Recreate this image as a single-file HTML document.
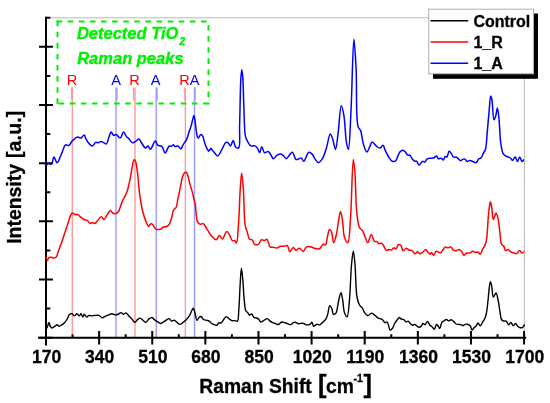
<!DOCTYPE html>
<html><head><meta charset="utf-8"><title>Raman spectra</title>
<style>html,body{margin:0;padding:0;background:#fff;width:550px;height:403px;overflow:hidden}svg{display:block}</style>
</head><body>
<svg width="550" height="403" viewBox="0 0 550 403">
<rect width="550" height="403" fill="#fff"/>
<path d="M46 17.8H524.4V337" fill="none" stroke="#b8b8b8" stroke-width="1"/>
<line x1="72.3" y1="87.5" x2="72.3" y2="337" stroke="#ff9a9a" stroke-width="1.4"/>
<line x1="71.6" y1="87.5" x2="71.6" y2="100.5" stroke="#ff9a9a" stroke-width="1.4"/>
<line x1="116.0" y1="87.5" x2="116.0" y2="337" stroke="#9a9aff" stroke-width="1.4"/>
<line x1="116.9" y1="87.5" x2="116.9" y2="100.5" stroke="#9a9aff" stroke-width="1.4"/>
<line x1="135.0" y1="87.5" x2="135.0" y2="337" stroke="#ff9a9a" stroke-width="1.4"/>
<line x1="133.6" y1="87.5" x2="133.6" y2="100.5" stroke="#ff9a9a" stroke-width="1.4"/>
<line x1="156.2" y1="87.5" x2="156.2" y2="337" stroke="#9a9aff" stroke-width="1.4"/>
<line x1="157.0" y1="87.5" x2="157.0" y2="100.5" stroke="#9a9aff" stroke-width="1.4"/>
<line x1="185.4" y1="87.5" x2="185.4" y2="337" stroke="#ff9a9a" stroke-width="1.4"/>
<line x1="184.9" y1="87.5" x2="184.9" y2="100.5" stroke="#ff9a9a" stroke-width="1.4"/>
<line x1="194.5" y1="87.5" x2="194.5" y2="337" stroke="#9a9aff" stroke-width="1.4"/>
<line x1="195.0" y1="87.5" x2="195.0" y2="100.5" stroke="#9a9aff" stroke-width="1.4"/>
<line x1="56.6" y1="21.5" x2="209.5" y2="21.5" stroke="#00f000" stroke-width="2" stroke-dasharray="5.6 5.5"/>
<line x1="57.5" y1="20.6" x2="57.5" y2="104.5" stroke="#00f000" stroke-width="2" stroke-dasharray="5.6 5.5"/>
<line x1="58.6" y1="103.5" x2="209.5" y2="103.5" stroke="#00f000" stroke-width="2" stroke-dasharray="5.6 5.5"/>
<line x1="208.5" y1="25" x2="208.5" y2="104.5" stroke="#00f000" stroke-width="2" stroke-dasharray="5.6 5.5"/>
<text x="76.9" y="39" font-family="Liberation Sans, Arial, sans-serif" font-size="16.5" font-weight="bold" font-style="italic" fill="#00f000" stroke="#00f000" stroke-width="0.35">Detected TiO<tspan font-size="10.5" dx="0.8" dy="5.6">2</tspan></text>
<text x="77.2" y="63.9" font-family="Liberation Sans, Arial, sans-serif" font-size="16.5" font-weight="bold" font-style="italic" fill="#00f000" stroke="#00f000" stroke-width="0.35">Raman peaks</text>
<text x="72.0" y="84.5" text-anchor="middle" font-family="Liberation Sans, Arial, sans-serif" font-size="14.6" fill="#ff0000">R</text>
<text x="116.2" y="84.5" text-anchor="middle" font-family="Liberation Sans, Arial, sans-serif" font-size="14.6" fill="#0000ff">A</text>
<text x="134.5" y="84.5" text-anchor="middle" font-family="Liberation Sans, Arial, sans-serif" font-size="14.6" fill="#ff0000">R</text>
<text x="155.5" y="84.5" text-anchor="middle" font-family="Liberation Sans, Arial, sans-serif" font-size="14.6" fill="#0000ff">A</text>
<text x="184.5" y="84.5" text-anchor="middle" font-family="Liberation Sans, Arial, sans-serif" font-size="14.6" fill="#ff0000">R</text>
<text x="194.6" y="84.5" text-anchor="middle" font-family="Liberation Sans, Arial, sans-serif" font-size="14.6" fill="#0000ff">A</text>
<path d="M46 17.7V344.5 M39 337.7H525.2" fill="none" stroke="#000" stroke-width="2" stroke-linecap="square"/>
<path d="M39 337.70H52.9 M39 279.52H52.9 M39 221.34H52.9 M39 163.16H52.9 M39 104.98H52.9 M39 46.80H52.9 M46 308.61H50.3 M46 250.43H50.3 M46 192.25H50.3 M46 134.07H50.3 M46 75.89H50.3 M46 17.71H50.3 M46.00 331V344.4 M99.12 331V344.4 M152.24 331V344.4 M205.36 331V344.4 M258.48 331V344.4 M311.60 331V344.4 M364.72 331V344.4 M417.84 331V344.4 M470.96 331V344.4 M524.08 331V344.4 M72.56 334.2V337.7 M125.68 334.2V337.7 M178.80 334.2V337.7 M231.92 334.2V337.7 M285.04 334.2V337.7 M338.16 334.2V337.7 M391.28 334.2V337.7 M444.40 334.2V337.7 M497.52 334.2V337.7" fill="none" stroke="#000" stroke-width="2" stroke-linecap="butt"/>
<path d="M46.30,165.30C46.30,165.30 47.49,163.66 48.20,163.50C48.87,163.35 49.74,164.24 50.40,164.20C50.96,164.16 51.46,164.01 51.90,163.50C52.78,162.48 53.08,157.21 53.80,157.10C54.26,157.03 54.83,158.54 55.30,159.40C55.84,160.38 56.20,162.55 56.80,162.70C57.22,162.80 57.77,162.17 58.20,161.60C58.92,160.66 59.44,158.65 60.10,157.10C60.81,155.43 61.57,153.69 62.30,151.90C63.07,150.00 63.74,147.17 64.60,146.00C65.07,145.36 65.55,144.87 66.10,144.80C66.65,144.73 67.32,145.55 67.90,145.60C68.42,145.64 68.93,145.54 69.40,145.20C70.11,144.68 70.68,143.06 71.30,142.20C71.81,141.50 72.10,141.04 72.80,140.40C73.90,139.38 76.10,137.22 77.60,137.00C78.76,136.83 79.87,138.34 80.90,138.10C82.09,137.83 83.37,134.74 84.20,134.90C84.97,135.05 85.16,137.36 85.80,138.60C86.50,139.96 87.24,141.49 88.30,142.70C89.41,143.97 91.16,146.10 92.40,146.00C93.58,145.90 94.48,142.82 95.60,142.40C96.41,142.09 97.22,142.81 98.10,142.70C99.14,142.57 100.21,141.33 101.40,141.40C102.89,141.48 105.10,144.45 106.30,144.00C107.62,143.51 107.87,139.81 108.70,137.80C109.50,135.85 110.28,132.20 111.20,132.10C111.94,132.02 112.67,135.11 113.60,135.40C114.35,135.63 115.22,134.33 116.10,134.50C117.37,134.74 119.01,138.31 120.20,138.10C121.53,137.87 122.37,132.14 123.50,132.10C124.54,132.06 125.72,136.00 126.70,137.00C127.26,137.58 127.68,137.56 128.30,138.10C129.40,139.07 131.00,142.37 132.40,142.70C133.45,142.94 134.56,141.97 135.60,141.40C136.73,140.79 137.95,138.93 138.90,139.10C139.89,139.28 140.45,141.40 141.40,142.70C142.58,144.31 144.25,147.86 145.50,148.00C146.35,148.09 147.14,145.91 147.90,146.00C148.78,146.10 149.47,149.35 150.40,149.30C151.81,149.22 153.96,141.09 155.30,141.10C156.25,141.10 156.57,144.34 157.70,145.20C158.77,146.02 160.66,145.37 161.80,146.30C163.30,147.52 163.90,152.86 165.10,152.90C166.35,152.95 167.77,146.70 169.20,146.00C169.98,145.62 170.91,146.52 171.60,146.30C172.28,146.08 172.75,144.68 173.30,144.70C173.88,144.72 174.30,146.38 175.00,146.60C175.70,146.82 176.76,145.87 177.50,146.00C178.18,146.12 178.74,146.71 179.30,147.20C179.91,147.73 180.50,149.17 181.00,149.10C181.59,149.02 181.96,147.02 182.50,146.00C183.05,144.96 183.66,143.86 184.30,142.90C184.90,142.00 185.69,141.32 186.20,140.40C186.73,139.46 186.98,138.52 187.40,137.30C187.99,135.60 188.65,133.05 189.30,131.10C189.89,129.34 190.57,127.87 191.10,126.10C191.68,124.16 192.09,121.77 192.60,119.90C193.03,118.33 193.52,115.59 193.90,115.60C194.28,115.61 194.59,118.16 194.90,119.90C195.36,122.51 195.64,126.80 196.10,129.80C196.49,132.31 196.78,135.39 197.40,136.70C197.69,137.32 198.05,137.92 198.40,137.90C198.84,137.88 199.28,136.37 199.80,135.80C200.26,135.30 200.82,134.58 201.30,134.60C201.76,134.62 202.21,135.19 202.60,135.80C203.28,136.88 203.66,139.29 204.20,141.00C204.73,142.68 205.22,144.55 205.80,146.00C206.27,147.17 206.76,148.19 207.30,149.10C207.77,149.89 208.32,151.19 208.80,151.20C209.21,151.21 209.63,150.21 210.00,149.70C210.36,149.21 210.65,148.19 211.00,148.20C211.41,148.21 211.79,149.64 212.30,150.30C212.82,150.98 213.40,151.46 214.10,152.20C215.08,153.25 216.42,156.11 217.60,156.00C219.14,155.86 220.88,150.98 222.30,148.60C223.58,146.46 224.47,142.94 225.80,142.40C226.64,142.06 227.74,142.67 228.50,143.20C229.33,143.78 229.83,145.96 230.50,145.90C231.40,145.82 232.40,140.35 233.20,140.40C234.04,140.45 234.23,145.47 235.40,146.70C236.24,147.58 237.80,148.52 238.60,148.00C240.68,146.67 239.28,134.02 239.60,125.00C240.06,112.10 240.27,87.22 240.90,78.00C241.17,74.14 241.48,69.81 241.80,69.80C242.08,69.80 242.44,73.16 242.70,76.00C243.26,82.10 243.39,95.25 243.80,105.00C244.22,114.92 244.27,129.49 245.20,135.00C245.56,137.15 245.77,137.85 246.50,139.40C247.46,141.43 249.19,144.99 250.90,145.90C252.14,146.56 253.85,145.43 255.00,145.90C256.11,146.36 256.95,147.53 257.70,148.60C258.51,149.76 258.97,152.73 259.60,152.70C260.34,152.67 260.99,146.73 261.80,146.70C262.62,146.67 263.22,152.16 264.50,152.70C265.48,153.11 267.09,151.14 268.10,151.40C269.08,151.65 269.72,153.04 270.50,154.10C271.46,155.39 272.21,158.55 273.30,158.70C274.33,158.84 275.49,156.17 276.80,155.40C278.04,154.67 279.77,153.97 280.90,154.10C281.77,154.20 282.33,154.80 283.10,155.40C284.14,156.20 285.38,158.75 286.40,158.70C287.37,158.65 288.12,156.46 289.10,155.40C290.12,154.29 291.39,152.02 292.40,152.20C293.73,152.44 294.64,158.80 295.90,159.50C296.51,159.84 297.08,159.48 297.80,159.30C298.80,159.05 300.33,157.61 301.30,157.90C302.32,158.20 302.78,161.34 303.70,161.30C305.15,161.23 307.09,152.77 308.90,152.30C310.04,152.01 311.40,153.38 312.40,154.40C313.57,155.60 314.11,157.88 315.20,159.30C316.20,160.61 317.43,162.74 318.60,162.70C319.95,162.66 321.60,159.94 322.80,157.90C324.37,155.24 325.33,151.38 326.50,147.70C327.85,143.47 329.01,134.00 330.30,133.90C331.16,133.83 332.11,137.48 332.90,139.70C333.89,142.49 334.72,149.44 335.50,149.40C336.50,149.35 337.25,139.32 338.10,133.20C339.20,125.27 340.00,105.89 341.30,105.80C342.08,105.74 343.16,111.41 343.90,115.50C345.12,122.28 345.36,136.95 346.50,142.90C347.07,145.85 347.85,149.46 348.40,149.40C349.73,149.26 350.20,125.49 351.00,110.60C352.09,90.43 352.83,39.32 353.90,39.30C354.59,39.29 355.47,57.24 356.10,68.70C356.98,84.79 355.63,119.03 358.10,126.80C358.79,128.97 359.87,128.84 360.60,130.60C361.89,133.70 362.25,140.65 363.50,144.50C364.44,147.41 365.66,151.85 366.80,151.90C367.83,151.94 369.06,147.89 370.00,146.10C370.79,144.60 371.12,142.06 372.10,141.90C373.25,141.71 375.20,145.33 376.70,146.40C377.85,147.22 379.05,148.26 380.10,148.10C381.20,147.93 382.28,145.03 383.10,145.20C384.05,145.40 384.36,148.59 385.20,150.40C386.17,152.49 387.43,155.10 388.70,157.00C389.79,158.62 390.89,160.68 392.20,161.20C393.24,161.61 394.67,161.47 395.60,160.80C396.84,159.90 397.32,156.88 398.20,155.20C398.96,153.76 399.50,152.09 400.50,151.30C401.34,150.65 402.68,150.23 403.50,150.40C404.19,150.54 404.61,151.19 405.20,151.80C406.02,152.65 406.86,154.73 407.80,155.20C408.46,155.53 409.27,154.85 409.90,155.20C410.78,155.69 411.27,157.68 412.10,158.70C412.88,159.66 413.84,160.86 414.70,161.20C415.31,161.44 415.92,160.89 416.50,161.20C417.43,161.70 418.12,165.03 419.10,165.10C420.14,165.17 421.49,161.43 422.60,161.20C423.36,161.04 424.14,162.38 424.80,162.20C425.62,161.97 426.03,159.77 426.90,159.10C427.64,158.53 428.62,158.35 429.50,158.20C430.35,158.06 431.32,158.31 432.10,158.20C432.76,158.11 433.27,157.99 433.90,157.70C434.72,157.32 435.79,155.75 436.50,155.90C437.23,156.05 437.39,158.33 438.20,158.70C438.98,159.06 440.32,157.98 441.20,158.20C442.04,158.41 442.78,160.04 443.40,159.90C444.12,159.73 444.36,156.83 445.10,156.50C445.62,156.27 446.37,157.27 446.90,157.00C447.86,156.52 448.17,151.49 449.10,151.30C449.82,151.16 450.90,152.94 451.60,153.90C452.30,154.85 452.46,156.44 453.30,157.00C454.09,157.52 455.46,156.92 456.40,157.30C457.37,157.70 458.21,158.77 459.00,159.40C459.65,159.92 460.21,160.81 460.80,160.80C461.38,160.79 461.84,159.68 462.50,159.40C463.17,159.11 464.08,158.86 464.80,159.10C465.67,159.40 466.35,161.36 467.20,161.50C467.93,161.63 468.65,160.45 469.50,160.40C470.49,160.34 471.69,161.14 472.80,161.50C473.92,161.87 475.28,162.92 476.20,162.60C477.17,162.26 477.52,160.14 478.40,159.30C479.18,158.56 480.34,158.52 481.10,157.70C482.05,156.68 482.56,154.74 483.30,153.30C484.02,151.90 484.91,151.13 485.50,149.20C486.65,145.42 486.72,137.52 487.30,131.40C487.92,124.91 488.49,117.53 489.10,111.30C489.63,105.88 489.97,96.19 490.70,96.10C491.03,96.06 491.46,97.56 491.80,99.00C492.69,102.74 492.88,119.63 494.00,119.80C494.52,119.88 495.29,117.32 495.80,115.70C496.49,113.54 496.91,107.89 497.40,107.90C497.99,107.92 498.52,114.68 499.00,119.10C499.69,125.47 499.81,136.21 500.70,142.50C501.31,146.81 501.74,151.03 503.00,153.30C503.73,154.62 504.72,155.26 505.70,155.90C506.60,156.49 507.71,156.69 508.60,157.10C509.39,157.46 510.18,157.67 510.80,158.20C511.46,158.76 511.77,160.37 512.40,160.40C513.20,160.44 514.47,156.99 515.30,157.10C516.18,157.21 516.77,161.50 517.50,161.50C518.23,161.50 518.95,157.11 519.70,157.10C520.45,157.09 521.23,161.38 522.00,161.50C522.50,161.58 523.50,160.00 523.50,160.00" fill="none" stroke="#0000ff" stroke-width="1.5" stroke-linejoin="round" stroke-linecap="round"/>
<path d="M46.10,257.30C46.10,257.30 46.82,260.46 47.30,260.50C47.76,260.54 48.16,258.22 48.90,257.70C49.54,257.25 50.51,257.24 51.30,257.30C52.11,257.36 52.90,258.10 53.70,258.10C54.50,258.10 55.42,257.96 56.10,257.30C57.23,256.21 57.64,253.14 58.50,250.80C59.51,248.07 60.73,244.93 61.80,241.90C62.90,238.77 63.94,235.51 65.00,232.30C66.07,229.08 67.21,225.60 68.20,222.60C69.06,219.99 69.73,217.03 70.60,215.30C71.14,214.23 71.67,213.06 72.30,212.90C72.79,212.78 73.35,213.40 73.90,213.70C74.51,214.03 75.18,214.75 75.80,214.80C76.35,214.85 76.86,214.10 77.40,214.20C78.09,214.33 78.77,215.47 79.50,216.10C80.27,216.77 81.07,217.49 81.90,218.10C82.71,218.69 83.51,219.35 84.40,219.70C85.25,220.04 86.26,219.73 87.10,220.20C88.16,220.79 88.99,223.13 90.00,223.40C90.77,223.60 91.60,222.60 92.40,222.60C93.20,222.60 94.04,223.57 94.80,223.40C95.69,223.20 96.37,221.92 97.30,221.00C98.51,219.80 100.17,216.81 101.40,216.80C102.39,216.79 103.25,219.59 104.10,219.50C105.06,219.40 105.82,216.81 106.80,215.40C107.90,213.83 109.24,210.58 110.40,210.50C111.33,210.44 112.05,212.85 113.10,213.30C114.07,213.71 115.43,213.71 116.40,213.30C117.45,212.85 118.50,211.50 119.10,210.50C119.62,209.65 119.61,208.92 120.00,207.80C120.65,205.94 121.62,202.89 122.70,200.40C123.86,197.73 125.63,195.49 126.80,192.30C128.33,188.14 129.44,181.92 130.40,177.30C131.21,173.39 131.58,169.60 132.30,166.40C132.88,163.82 133.47,159.59 134.20,159.50C134.69,159.44 135.34,160.98 135.80,162.30C136.70,164.88 137.12,169.97 137.70,174.50C138.42,180.15 138.78,187.49 139.60,193.60C140.37,199.29 141.23,205.06 142.40,210.00C143.39,214.18 144.65,218.42 145.90,221.40C146.76,223.46 147.81,226.35 148.60,226.40C149.12,226.43 149.46,224.86 150.00,224.40C150.45,224.02 151.02,223.64 151.50,223.70C152.02,223.76 152.55,224.36 153.00,224.90C153.57,225.58 153.90,226.83 154.50,227.60C155.05,228.31 155.70,229.08 156.40,229.40C157.01,229.68 157.67,229.65 158.40,229.60C159.30,229.54 160.53,229.37 161.40,228.90C162.26,228.43 162.84,227.08 163.60,226.80C164.18,226.58 164.80,227.01 165.40,226.90C166.06,226.78 166.79,226.37 167.40,226.00C167.99,225.64 168.49,225.40 169.00,224.70C169.93,223.42 170.73,220.55 171.50,218.20C172.38,215.51 172.79,211.11 173.90,209.40C174.51,208.47 175.42,208.63 176.00,207.70C177.05,205.99 177.23,202.02 177.90,198.90C178.66,195.37 179.50,191.37 180.30,187.60C181.10,183.83 181.59,179.04 182.70,176.30C183.41,174.55 184.35,172.54 185.20,172.30C185.73,172.15 186.35,172.58 186.80,173.10C187.56,173.98 187.90,176.17 188.40,177.90C188.98,179.89 189.38,182.13 190.00,184.40C190.69,186.94 191.72,189.78 192.40,192.40C193.04,194.88 193.48,197.59 194.00,199.70C194.41,201.33 194.80,202.05 195.20,204.00C196.02,207.97 195.96,219.43 197.70,222.30C198.44,223.51 199.45,224.01 200.40,224.20C201.29,224.38 202.43,223.34 203.20,223.60C203.96,223.86 204.36,224.82 205.00,225.70C205.92,226.98 206.91,229.00 208.00,230.70C209.19,232.56 210.44,234.83 211.90,236.40C213.20,237.80 214.94,239.96 216.20,239.80C217.44,239.64 218.32,235.65 219.40,235.60C220.39,235.56 221.38,239.01 222.40,238.90C223.83,238.75 225.43,231.46 226.80,231.40C227.86,231.35 228.90,234.10 229.80,235.60C230.74,237.16 231.22,239.93 232.30,240.60C233.02,241.05 234.12,240.24 234.80,240.60C235.55,241.00 236.02,243.22 236.50,243.10C237.70,242.80 237.94,231.67 238.50,224.50C239.26,214.73 239.55,199.30 240.20,189.80C240.66,183.16 241.17,172.90 241.70,172.90C242.23,172.90 242.90,183.11 243.40,189.80C244.13,199.53 243.92,218.72 245.20,225.70C245.74,228.67 246.50,229.74 247.20,231.90C247.96,234.26 248.38,238.22 249.60,239.30C250.30,239.92 251.37,239.27 252.10,239.80C253.14,240.56 253.43,243.61 254.60,244.30C255.59,244.88 257.23,244.85 258.30,244.30C259.61,243.62 260.28,240.24 261.50,239.80C262.41,239.47 263.56,240.70 264.50,240.60C265.39,240.50 266.26,239.02 267.00,239.30C268.26,239.77 268.58,245.67 270.00,246.80C270.90,247.52 272.10,247.11 273.20,247.30C274.39,247.51 275.69,248.15 276.90,248.00C278.16,247.85 279.34,246.58 280.60,246.30C281.81,246.04 283.14,246.45 284.30,246.30C285.36,246.16 286.48,245.09 287.30,245.50C288.51,246.10 288.72,251.52 289.80,251.70C290.77,251.86 292.19,247.63 293.30,247.60C294.24,247.57 294.99,250.28 296.00,250.40C297.05,250.53 298.36,248.11 299.50,248.20C300.73,248.30 301.99,251.52 303.10,251.40C304.30,251.27 305.03,247.50 306.40,246.80C307.57,246.20 309.16,246.57 310.50,246.80C311.86,247.03 313.07,247.88 314.50,248.20C316.05,248.54 318.07,249.29 319.50,248.70C321.05,248.06 322.09,244.43 323.30,244.10C324.06,243.89 324.89,245.23 325.50,244.90C326.70,244.25 326.87,238.62 327.60,235.90C328.21,233.60 328.65,229.79 329.50,229.60C330.07,229.47 330.94,230.68 331.50,231.80C332.59,233.97 332.71,242.64 333.60,242.70C334.39,242.75 335.63,237.62 336.40,234.50C337.37,230.57 337.75,225.02 338.50,220.90C339.13,217.44 339.82,211.41 340.50,211.40C341.13,211.39 341.83,216.26 342.40,219.50C343.24,224.26 343.08,233.19 344.50,237.30C345.35,239.74 346.92,242.90 347.80,242.70C349.54,242.31 349.72,228.14 350.50,218.20C351.71,202.86 352.21,159.54 353.30,159.50C353.80,159.48 354.43,166.49 354.90,171.80C355.75,181.44 355.64,202.44 356.80,212.70C357.51,218.96 357.97,224.84 359.50,227.70C360.27,229.15 361.48,229.21 362.30,230.40C363.39,231.98 364.09,234.63 365.00,236.70C365.89,238.73 366.74,242.70 367.70,242.70C368.82,242.69 370.12,234.51 371.30,234.50C372.39,234.49 373.17,240.44 374.50,241.40C375.28,241.96 376.32,241.34 377.10,241.70C377.94,242.09 378.50,243.61 379.30,243.80C380.01,243.97 380.92,242.87 381.60,243.10C382.43,243.38 382.99,244.91 383.70,246.00C384.55,247.30 385.25,250.02 386.30,250.40C387.07,250.68 388.02,249.56 388.90,249.50C389.76,249.44 390.71,250.23 391.50,250.00C392.36,249.75 393.03,247.89 393.80,247.80C394.46,247.73 395.16,249.15 395.80,249.00C396.73,248.77 397.39,245.26 398.40,244.80C399.10,244.49 400.04,244.68 400.70,245.20C401.76,246.04 402.02,250.42 403.10,250.70C403.98,250.93 405.28,248.33 406.30,248.30C407.20,248.27 407.97,249.65 408.90,250.00C409.80,250.34 410.89,249.93 411.80,250.40C412.95,250.99 413.97,253.73 415.00,253.80C415.86,253.86 416.69,251.78 417.50,251.80C418.29,251.82 418.95,253.71 419.80,253.80C420.70,253.89 421.84,252.79 422.80,252.10C423.82,251.37 424.82,249.43 425.70,249.50C426.55,249.57 427.20,251.58 428.00,252.40C428.70,253.12 429.61,254.29 430.20,254.20C430.71,254.12 430.92,252.42 431.40,252.40C432.03,252.37 432.96,255.25 433.70,255.20C434.54,255.14 435.10,251.52 436.10,251.20C436.91,250.94 438.08,252.08 438.90,252.40C439.53,252.65 440.04,253.18 440.60,253.00C441.46,252.73 442.27,250.56 443.10,249.50C443.84,248.55 444.45,247.13 445.30,246.90C446.07,246.69 447.00,247.78 447.90,247.80C448.86,247.82 450.02,246.61 450.90,246.90C451.94,247.24 452.47,249.81 453.50,250.40C454.33,250.87 455.38,250.83 456.30,250.70C457.28,250.56 458.30,249.35 459.20,249.50C460.14,249.66 461.04,250.89 461.80,251.80C462.62,252.77 463.05,255.05 463.90,255.20C464.70,255.34 465.64,253.38 466.70,253.00C467.75,252.62 469.20,253.23 470.20,252.90C471.10,252.60 471.64,251.41 472.50,251.30C473.43,251.18 474.62,252.31 475.60,252.40C476.44,252.47 477.26,251.76 478.00,252.00C478.85,252.27 479.61,254.43 480.30,254.30C481.23,254.13 481.84,250.48 482.70,248.90C483.42,247.57 484.38,246.84 485.00,245.40C485.82,243.50 486.24,241.25 486.70,238.30C487.44,233.55 487.61,225.04 488.10,219.50C488.49,215.11 488.83,210.95 489.30,207.70C489.63,205.39 489.99,201.81 490.40,201.80C490.77,201.79 491.22,204.53 491.60,206.50C492.22,209.74 492.47,219.38 493.30,219.50C493.75,219.57 494.41,217.05 494.90,215.90C495.34,214.86 495.67,212.89 496.10,212.90C496.68,212.91 497.46,216.04 498.00,218.30C498.86,221.86 499.29,227.91 499.90,232.40C500.46,236.51 500.32,241.89 501.50,244.20C502.12,245.42 503.26,245.54 503.90,246.50C504.63,247.59 504.68,250.14 505.50,250.50C506.13,250.78 507.09,249.47 507.90,249.60C508.89,249.76 509.83,251.45 510.90,252.00C511.88,252.51 512.99,252.63 514.00,252.90C514.95,253.16 515.94,253.86 516.80,253.60C517.84,253.28 518.69,250.52 519.60,250.50C520.42,250.48 521.20,252.76 522.00,252.90C522.63,253.01 523.90,252.00 523.90,252.00" fill="none" stroke="#ff0000" stroke-width="1.5" stroke-linejoin="round" stroke-linecap="round"/>
<path d="M46.90,328.00C46.90,328.00 47.81,325.42 48.20,324.40C48.49,323.63 48.73,322.39 49.00,322.40C49.36,322.42 49.49,325.04 50.10,326.00C50.64,326.85 51.53,327.95 52.30,328.00C53.06,328.05 53.89,326.85 54.70,326.30C55.52,325.75 56.49,324.62 57.20,324.70C57.82,324.77 58.16,326.18 58.80,326.30C59.50,326.43 60.45,325.71 61.30,325.20C62.34,324.58 63.55,323.65 64.50,322.70C65.45,321.75 66.22,320.73 67.00,319.50C67.91,318.06 68.45,315.41 69.50,314.50C70.20,313.89 71.13,313.54 71.90,313.70C72.78,313.88 73.58,315.91 74.40,315.90C75.21,315.89 75.99,313.71 76.80,313.70C77.62,313.69 78.59,315.98 79.30,315.90C79.94,315.83 80.35,313.68 80.90,313.70C81.55,313.73 82.33,317.03 82.90,317.00C83.41,316.97 83.62,314.28 84.20,314.20C84.83,314.11 85.73,316.87 86.60,317.00C87.38,317.11 88.24,315.56 89.10,315.40C89.88,315.26 90.63,315.88 91.50,315.90C92.51,315.93 93.64,315.49 94.80,315.40C96.09,315.30 97.67,315.00 98.90,315.40C100.13,315.80 101.07,317.70 102.20,317.80C103.27,317.90 104.40,316.69 105.50,316.20C106.57,315.73 107.62,315.32 108.70,314.90C109.79,314.48 110.90,313.70 112.00,313.70C113.10,313.70 114.28,314.81 115.30,314.90C116.15,314.98 116.86,314.80 117.70,314.50C118.74,314.13 119.98,312.58 121.00,312.60C121.90,312.62 122.67,314.17 123.50,314.20C124.30,314.23 125.13,312.79 125.90,312.90C126.77,313.03 127.68,314.65 128.40,315.40C128.97,315.99 129.33,316.41 129.90,317.00C130.62,317.75 131.60,318.62 132.40,319.50C133.23,320.41 133.97,322.37 134.80,322.40C135.61,322.43 136.39,320.53 137.30,319.80C138.17,319.11 139.17,318.05 140.10,318.10C141.08,318.15 142.03,319.58 143.00,320.30C143.96,321.01 144.99,322.51 145.90,322.40C146.90,322.28 147.63,319.93 148.70,319.10C149.68,318.34 151.02,317.36 152.00,317.50C152.94,317.64 153.58,319.09 154.50,319.80C155.47,320.56 156.70,321.25 157.70,321.90C158.58,322.47 159.36,323.44 160.20,323.50C160.99,323.56 161.75,322.86 162.60,322.40C163.63,321.84 164.79,320.94 165.90,320.30C166.99,319.68 168.24,318.44 169.20,318.60C170.13,318.75 170.72,320.88 171.60,321.10C172.37,321.29 173.27,320.17 174.10,320.30C175.07,320.46 176.04,321.71 177.00,322.40C177.94,323.08 178.82,324.36 179.80,324.40C180.84,324.44 182.03,323.18 183.10,322.40C184.24,321.57 185.36,320.61 186.40,319.50C187.53,318.30 188.70,316.89 189.60,315.40C190.51,313.89 191.06,311.78 191.80,310.50C192.33,309.59 192.92,308.23 193.40,308.30C194.04,308.39 194.47,311.17 195.00,312.90C195.67,315.06 196.14,320.14 197.00,320.30C197.58,320.40 198.23,318.14 199.00,317.50C199.63,316.97 200.43,316.35 201.10,316.50C201.96,316.70 202.51,318.87 203.50,319.50C204.43,320.09 205.78,320.01 206.80,320.30C207.70,320.55 208.53,320.63 209.30,321.10C210.18,321.64 210.84,322.89 211.70,323.50C212.48,324.05 213.32,324.42 214.20,324.70C215.09,324.99 216.23,325.51 217.00,325.20C217.82,324.87 218.16,322.85 218.90,322.60C219.50,322.40 220.24,323.42 220.90,323.20C221.92,322.86 222.93,320.37 223.90,319.20C224.72,318.22 225.45,316.67 226.30,316.60C227.12,316.53 227.99,317.95 228.90,318.60C229.85,319.28 230.86,320.28 231.90,320.60C232.83,320.88 233.87,320.49 234.80,320.60C235.70,320.70 236.74,321.66 237.40,321.20C238.77,320.24 238.40,314.31 238.80,309.70C239.41,302.80 239.71,291.33 240.20,283.80C240.58,277.97 240.93,268.31 241.40,268.30C241.81,268.29 242.38,275.51 242.80,279.90C243.35,285.62 243.59,294.07 244.20,299.70C244.65,303.91 244.74,308.59 245.80,310.70C246.33,311.76 247.17,311.97 247.80,312.70C248.47,313.47 248.99,315.06 249.70,315.20C250.31,315.32 251.07,313.86 251.70,314.00C252.56,314.19 253.12,316.98 254.10,317.60C254.86,318.08 255.92,317.72 256.70,318.00C257.44,318.27 258.09,318.63 258.70,319.20C259.45,319.89 259.86,321.79 260.70,322.00C261.51,322.21 262.59,321.12 263.60,320.60C264.74,320.01 266.15,318.50 267.20,318.60C268.11,318.69 268.74,319.96 269.60,320.60C270.53,321.29 271.56,322.09 272.60,322.60C273.57,323.07 274.61,323.26 275.60,323.60C276.58,323.93 277.57,324.78 278.50,324.60C279.55,324.40 280.43,322.28 281.50,322.00C282.44,321.75 283.51,322.34 284.50,322.60C285.51,322.87 286.50,323.27 287.50,323.60C288.50,323.93 289.54,324.74 290.50,324.60C291.51,324.46 292.54,322.96 293.40,322.60C293.98,322.36 294.37,322.24 295.00,322.30C295.99,322.40 297.45,323.68 298.70,323.80C299.92,323.92 301.18,322.96 302.40,323.10C303.68,323.25 304.92,324.61 306.20,324.80C307.42,324.98 308.92,324.79 309.90,324.30C310.76,323.88 311.33,322.19 311.90,322.30C312.61,322.44 312.73,326.03 313.60,326.30C314.41,326.55 315.71,324.52 316.80,324.30C317.78,324.10 318.86,325.06 319.80,324.80C320.87,324.51 321.82,323.24 322.80,322.30C323.89,321.26 325.18,320.12 326.00,318.80C326.81,317.48 327.17,316.14 327.70,314.40C328.43,312.01 328.75,305.92 329.70,305.70C330.27,305.57 331.14,307.11 331.70,308.20C332.49,309.75 332.42,313.97 333.40,314.40C334.05,314.68 335.21,314.00 335.90,313.10C337.30,311.29 337.53,305.54 338.40,302.00C339.20,298.73 340.16,292.59 340.90,292.60C341.53,292.61 342.07,296.80 342.60,299.50C343.34,303.26 343.44,310.05 344.60,313.10C345.27,314.86 346.41,317.06 347.10,316.90C348.46,316.59 348.84,306.31 349.50,299.50C350.43,289.93 350.66,273.69 351.50,264.80C352.03,259.21 352.72,251.20 353.30,251.20C353.88,251.20 354.49,259.29 355.00,264.80C355.79,273.25 355.69,289.91 357.00,297.00C357.67,300.61 358.37,303.02 359.50,305.00C360.31,306.42 361.54,306.95 362.40,308.20C363.37,309.61 363.85,311.82 364.90,313.10C365.80,314.20 367.02,315.59 368.10,315.60C369.19,315.61 370.32,313.15 371.40,313.10C372.38,313.05 373.30,314.17 374.30,314.90C375.51,315.78 376.99,317.53 378.10,318.10C378.80,318.46 379.34,318.36 380.00,318.60C380.79,318.89 381.73,319.20 382.50,319.80C383.39,320.50 384.05,322.48 384.90,322.70C385.54,322.86 386.35,321.69 386.90,321.90C387.62,322.18 388.00,323.97 388.50,325.20C389.09,326.65 389.29,329.84 390.10,330.10C390.69,330.29 391.64,329.29 392.30,328.50C393.25,327.37 393.83,325.01 394.70,323.50C395.48,322.14 396.36,320.86 397.20,319.80C397.90,318.91 398.58,317.56 399.30,317.50C399.95,317.45 400.56,318.77 401.30,319.10C402.03,319.42 402.98,319.11 403.70,319.50C404.54,319.95 405.10,321.70 405.90,321.90C406.58,322.07 407.42,320.93 408.10,321.10C408.90,321.30 409.51,322.80 410.30,323.50C411.05,324.16 411.91,325.11 412.70,325.20C413.37,325.28 414.05,324.31 414.70,324.40C415.42,324.50 416.05,325.52 416.80,326.00C417.58,326.49 418.52,327.30 419.30,327.30C419.98,327.30 420.64,326.82 421.20,326.30C421.89,325.65 422.20,323.68 422.90,323.50C423.50,323.34 424.33,324.84 425.00,324.70C425.88,324.52 426.70,321.37 427.50,321.40C428.33,321.44 429.04,324.26 429.90,325.20C430.56,325.92 431.31,326.17 432.00,326.80C432.78,327.51 433.61,329.41 434.30,329.30C435.16,329.16 435.71,324.54 436.50,324.40C437.01,324.31 437.60,325.38 438.10,326.00C438.67,326.71 439.18,328.56 439.70,328.50C440.47,328.41 440.92,323.70 441.90,322.40C442.53,321.56 443.35,321.29 444.10,320.80C444.82,320.33 445.55,319.51 446.30,319.50C447.08,319.49 447.88,320.75 448.70,320.80C449.51,320.85 450.40,319.72 451.20,319.80C452.03,319.89 452.83,320.75 453.60,321.40C454.47,322.12 455.19,323.52 456.10,324.00C456.85,324.39 457.69,324.28 458.50,324.40C459.32,324.52 460.22,324.47 461.00,324.70C461.75,324.92 462.42,325.74 463.10,325.70C463.79,325.65 464.38,324.65 465.10,324.40C465.81,324.15 466.62,324.03 467.40,324.20C468.32,324.40 469.45,324.97 470.20,325.80C471.10,326.80 471.38,330.01 472.10,330.10C472.68,330.17 473.29,328.42 474.00,327.70C474.70,326.99 475.64,326.56 476.30,325.80C476.99,325.00 477.35,323.05 478.00,323.00C478.68,322.95 479.56,325.85 480.30,325.80C481.14,325.74 481.90,323.08 482.70,321.80C483.46,320.59 484.38,319.71 485.00,318.30C485.80,316.50 486.23,314.25 486.70,311.70C487.34,308.27 487.66,303.53 488.10,299.50C488.53,295.54 488.83,290.95 489.30,287.70C489.63,285.39 489.95,281.83 490.40,281.80C490.75,281.77 491.23,283.77 491.60,285.30C492.26,288.05 492.39,296.89 493.30,297.10C493.75,297.20 494.40,295.44 494.90,294.70C495.33,294.06 495.72,292.84 496.10,292.90C496.78,293.01 497.43,296.97 498.00,299.50C498.75,302.83 499.27,307.64 499.90,311.20C500.43,314.21 500.44,317.90 501.50,319.50C502.12,320.43 503.07,320.85 503.90,321.10C504.64,321.32 505.51,320.72 506.20,321.10C507.16,321.63 507.75,324.81 508.60,324.90C509.33,324.97 510.15,322.45 510.90,322.50C511.73,322.56 512.47,325.73 513.30,325.80C514.04,325.86 514.85,323.46 515.60,323.50C516.42,323.55 517.13,325.78 518.00,326.50C518.72,327.09 519.50,327.57 520.30,327.70C521.07,327.82 522.05,327.72 522.70,327.30C523.41,326.84 524.30,324.90 524.30,324.90" fill="none" stroke="#000000" stroke-width="1.4" stroke-linejoin="round" stroke-linecap="round"/>
<text x="46.60" y="363" text-anchor="middle" font-family="Liberation Sans, Arial, sans-serif" font-size="17.5" font-weight="bold" fill="#000" stroke="#000" stroke-width="0.3">170</text>
<text x="99.72" y="363" text-anchor="middle" font-family="Liberation Sans, Arial, sans-serif" font-size="17.5" font-weight="bold" fill="#000" stroke="#000" stroke-width="0.3">340</text>
<text x="152.84" y="363" text-anchor="middle" font-family="Liberation Sans, Arial, sans-serif" font-size="17.5" font-weight="bold" fill="#000" stroke="#000" stroke-width="0.3">510</text>
<text x="205.96" y="363" text-anchor="middle" font-family="Liberation Sans, Arial, sans-serif" font-size="17.5" font-weight="bold" fill="#000" stroke="#000" stroke-width="0.3">680</text>
<text x="259.08" y="363" text-anchor="middle" font-family="Liberation Sans, Arial, sans-serif" font-size="17.5" font-weight="bold" fill="#000" stroke="#000" stroke-width="0.3">850</text>
<text x="312.20" y="363" text-anchor="middle" font-family="Liberation Sans, Arial, sans-serif" font-size="17.5" font-weight="bold" fill="#000" stroke="#000" stroke-width="0.3">1020</text>
<text x="365.32" y="363" text-anchor="middle" font-family="Liberation Sans, Arial, sans-serif" font-size="17.5" font-weight="bold" fill="#000" stroke="#000" stroke-width="0.3">1190</text>
<text x="418.44" y="363" text-anchor="middle" font-family="Liberation Sans, Arial, sans-serif" font-size="17.5" font-weight="bold" fill="#000" stroke="#000" stroke-width="0.3">1360</text>
<text x="471.56" y="363" text-anchor="middle" font-family="Liberation Sans, Arial, sans-serif" font-size="17.5" font-weight="bold" fill="#000" stroke="#000" stroke-width="0.3">1530</text>
<text x="524.68" y="363" text-anchor="middle" font-family="Liberation Sans, Arial, sans-serif" font-size="17.5" font-weight="bold" fill="#000" stroke="#000" stroke-width="0.3">1700</text>
<text x="199.3" y="392.5" font-family="Liberation Sans, Arial, sans-serif" font-size="19.3" font-weight="bold" fill="#000" stroke="#000" stroke-width="0.3">Raman Shift</text>
<text x="318.0" y="393.3" font-family="Liberation Sans, Arial, sans-serif" font-size="25.5" font-weight="bold" fill="#000" stroke="#000" stroke-width="0.3">[</text>
<text x="326" y="392.5" font-family="Liberation Sans, Arial, sans-serif" font-size="19.3" font-weight="bold" fill="#000" stroke="#000" stroke-width="0.3">cm</text>
<text x="353.4" y="381.6" font-family="Liberation Sans, Arial, sans-serif" font-size="10.5" font-weight="bold" fill="#000" stroke="#000" stroke-width="0.3">-1</text>
<text x="363.6" y="393.3" font-family="Liberation Sans, Arial, sans-serif" font-size="25.5" font-weight="bold" fill="#000" stroke="#000" stroke-width="0.3">]</text>
<text transform="translate(21.3,243.8) rotate(-90)" x="0" y="0" font-family="Liberation Sans, Arial, sans-serif" font-size="19.4" font-weight="bold" fill="#000" stroke="#000" stroke-width="0.3">Intensity <tspan dx="0.6" letter-spacing="0.2">[a.u.]</tspan></text>
<rect x="433" y="13.5" width="105" height="65.3" fill="#000"/>
<rect x="428.7" y="9.2" width="104.8" height="64.6" fill="#fff" stroke="#b0b0b0" stroke-width="1"/>
<line x1="430.5" y1="20.7" x2="468.2" y2="20.7" stroke="#000" stroke-width="1.5"/>
<line x1="430.5" y1="42" x2="468.2" y2="42" stroke="#ff0000" stroke-width="1.5"/>
<line x1="430.5" y1="63.2" x2="468.2" y2="63.2" stroke="#0000ff" stroke-width="1.5"/>
<text x="473.4" y="26.8" font-family="Liberation Sans, Arial, sans-serif" font-size="16" font-weight="bold" fill="#000" stroke="#000" stroke-width="0.3">Control</text>
<text x="473.4" y="47.5" font-family="Liberation Sans, Arial, sans-serif" font-size="16" font-weight="bold" fill="#000" stroke="#000" stroke-width="0.3">1_R</text>
<text x="473.4" y="68.8" font-family="Liberation Sans, Arial, sans-serif" font-size="16" font-weight="bold" fill="#000" stroke="#000" stroke-width="0.3">1_A</text>
</svg>
</body></html>
